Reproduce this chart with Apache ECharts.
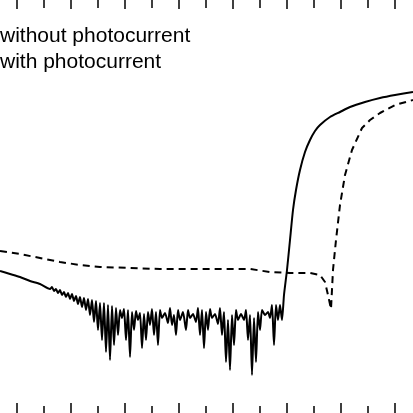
<!DOCTYPE html><html><head><meta charset="utf-8"><script src="https://cdn.jsdelivr.net/npm/echarts@6/dist/echarts.min.js"></script>
<style>html,body{margin:0;padding:0;background:#fff}#c{width:413px;height:413px}</style></head><body><div id="c"></div><script>
const seriesNames=["without photocurrent","with photocurrent"];
const majorTicks=[17,71,125,179,233,287,341,395];
const minorTicks=[44,98,152,206,260,314,368];
const solidX=[0,10,20,30,40,50,52,54,56,58,60,62,64,66,68,70,72,74,76,78,80,82,84,86,88,90,92,94,96,98,100,102,104,106,108,110,112,114,116,118,120,122,124,126,128,130,132,134,136,138,140,142,144,146,148,150,152,154,156,158,160,162,165,168,170,172,174,176,178,180,183,186,188,190,193,196,198,200,202,204,206,208,210,212,215,218,220,222,224,226,228,230,232,234,236,238,241,244,246,248,250,252,254,256,258,260,262,265,268,270,272,274,276,278,280,282,284,287,290,293,296,300,305,310,315,320,330,340,350,365,380,395,413];
const solidY=[271,274,277,281,284,289,287,291,289,293,290,295,292,297,293,299,294,301,296,304,297,307,298,310,299,315,300,322,301,330,303,340,303,352,305,360,306,345,308,335,310,318,309,340,310,357,312,330,311,320,313,348,314,340,312,325,309,335,312,345,310,318,313,323,308,325,315,335,310,320,312,330,310,318,314,322,308,335,310,348,312,330,309,318,314,324,308,335,312,362,320,370,315,345,310,320,314,320,310,340,315,375,318,362,312,330,310,315,312,318,305,345,305,320,305,320,295,270,240,210,190,170,152,140,131,125,117,112,107,102,98,95,92];
const dashX=[0,20,40,60,80,100,130,160,200,230,250,270,290,310,320,325,328,331,333,336,340,345,352,362,370,380,395,413];
const dashY=[251,254,258,262,265,267,268,269,269,269,269,272,273,273,275,282,295,309,270,240,205,175,150,128,120,113,105,100];
const toPair=(xs,ys)=>xs.map((x,i)=>[x,413-ys[i]]);
const c=echarts.init(document.getElementById('c'));
const ax=(pos,vals,len)=>({type:'value',position:pos,min:0,max:413,axisLine:{show:false},splitLine:{show:false},axisLabel:{show:false},
 axisTick:{show:true,inside:true,length:len,customValues:vals,lineStyle:{color:'#000',width:1.5}}});
c.setOption({animation:false,
 grid:{left:0,right:0,top:0,bottom:0},
 xAxis:[ax('bottom',majorTicks,10),ax('bottom',minorTicks,7),ax('top',majorTicks,9),ax('top',minorTicks,8)],
 yAxis:{type:'value',min:0,max:413,show:false},
 graphic:[{type:'text',left:0,top:26,style:{text:seriesNames[0],font:'21px "Liberation Sans"',fill:'#000'}},
          {type:'text',left:0,top:52,style:{text:seriesNames[1],font:'21px "Liberation Sans"',fill:'#000'}}],
 series:[{name:seriesNames[0],type:'line',data:toPair(solidX,solidY),showSymbol:false,smooth:0.2,lineStyle:{color:'#000',width:2}},
         {name:seriesNames[1],type:'line',data:toPair(dashX,dashY),showSymbol:false,lineStyle:{color:'#000',width:2,type:[7,5]}}]});
</script></body></html>
